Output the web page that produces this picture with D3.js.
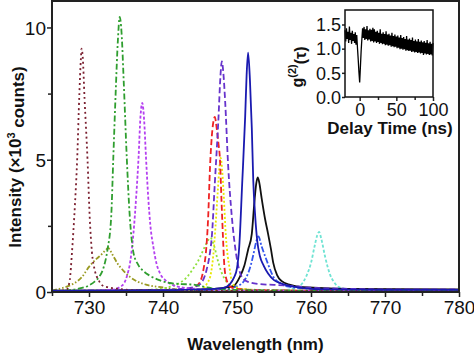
<!DOCTYPE html>
<html><head><meta charset="utf-8">
<script src="https://cdn.jsdelivr.net/npm/d3@7"></script>
<style>body{margin:0;background:#fff}svg{display:block}text{font-family:"Liberation Sans",Arial,sans-serif;fill:#111}</style>
</head><body><svg id="c" width="474" height="356"></svg>
<script>
// ---- data (wavelength nm, intensity x10^3 counts) ----
const specMaroon = [[725,0.03],[726,0.05],[727,0.1],[727.4,0.45],[727.7,1.5],[728.1,3.3],[728.4,5.0],[728.7,7.5],[728.9,8.8],[729.0,9.2],[729.15,8.9],[729.4,7.3],[729.8,5.0],[730.1,2.8],[730.4,1.5],[730.8,0.8],[731.3,0.45],[731.8,0.25],[732.5,0.18],[734,0.12],[736,0.07],[740,0.05],[750,0.04],[760,0.03],[780,0.03]];
const specGreen = [[725,0.03],[727,0.06],[728.5,0.12],[730,0.25],[730.8,0.4],[731.4,0.58],[732.0,0.95],[732.5,1.6],[733.0,2.85],[733.3,5.2],[733.6,7.5],[733.9,9.5],[734.15,10.4],[734.4,9.8],[734.7,7.9],[735.1,5.1],[735.5,2.9],[736.0,1.5],[736.6,1.05],[737.4,0.78],[738.2,0.62],[739.5,0.45],[740.9,0.34],[742.5,0.3],[744,0.28],[745.5,0.2],[747,0.12],[750,0.08],[760,0.05],[780,0.04]];
const specOlive = [[725,0.05],[726,0.12],[727,0.2],[728,0.33],[729,0.55],[730,0.95],[731,1.25],[731.8,1.45],[732.3,1.6],[732.6,1.67],[732.9,1.55],[733.3,1.35],[733.8,1.1],[734.5,0.85],[735.5,0.58],[736.5,0.4],[737.8,0.27],[740,0.17],[742,0.1],[745,0.07],[750,0.05],[760,0.04],[780,0.03]];
const specViolet = [[725,0.04],[730,0.05],[733,0.08],[734.5,0.25],[735.1,0.58],[735.6,1.2],[736.0,2.2],[736.4,3.7],[736.7,5.1],[736.95,6.6],[737.2,7.15],[737.45,6.5],[737.7,5.1],[738.0,3.6],[738.3,2.5],[738.7,1.7],[739.1,1.1],[739.6,0.7],[740.3,0.45],[741.2,0.28],[742,0.2],[744,0.13],[747,0.08],[750,0.06],[760,0.05],[780,0.04]];
const specLime = [[725,0.03],[735,0.05],[739,0.1],[741,0.2],[742.3,0.35],[743.2,0.55],[744.0,0.85],[744.7,1.15],[745.3,1.5],[745.9,1.85],[746.4,2.05],[746.9,1.75],[747.4,1.2],[747.9,0.75],[748.5,0.42],[749.3,0.22],[750.5,0.12],[753,0.08],[760,0.05],[780,0.04]];
const specRed = [[725,0.03],[740,0.05],[743,0.1],[744.3,0.2],[745.0,0.38],[745.5,0.9],[745.8,1.5],[746.1,2.8],[746.35,4.7],[746.6,5.9],[746.85,6.5],[747.0,6.62],[747.25,6.2],[747.5,5.6],[747.7,5.0],[747.9,3.5],[748.1,2.1],[748.3,0.95],[748.6,0.45],[749.1,0.2],[750,0.12],[752,0.08],[760,0.05],[780,0.04]];
const specYellow = [[725,0.03],[740,0.05],[744,0.08],[745.4,0.12],[746.0,0.35],[746.4,0.6],[746.8,1.4],[747.1,2.5],[747.4,3.8],[747.65,4.8],[747.8,5.07],[748.0,4.6],[748.2,3.7],[748.5,2.1],[748.75,1.35],[749.0,0.9],[749.3,0.4],[749.8,0.2],[750.5,0.12],[755,0.06],[780,0.04]];
const specIndigo = [[725,0.04],[735,0.06],[740,0.08],[743,0.13],[744.5,0.22],[745.2,0.35],[745.9,0.85],[746.3,1.4],[746.6,2.1],[747.0,4.1],[747.5,6.6],[747.75,8.1],[747.95,8.72],[748.15,8.3],[748.4,7.2],[748.8,4.8],[749.3,2.85],[749.9,1.4],[750.6,0.6],[751.5,0.38],[753,0.3],[755,0.27],[757,0.24],[760,0.16],[765,0.12],[770,0.1],[780,0.1]];
const specBlue = [[725,0.04],[740,0.06],[745,0.1],[747,0.12],[748.1,0.15],[749.05,0.3],[749.6,0.55],[750.0,0.9],[750.3,1.7],[750.7,4.1],[751.1,6.6],[751.3,8.2],[751.5,9.05],[751.75,8.0],[752.0,6.2],[752.2,4.2],[752.45,2.9],[752.75,1.9],[753.1,1.35],[753.6,1.0],[754.2,0.7],[755.0,0.45],[756.0,0.32],[757.2,0.22],[759,0.15],[762,0.1],[770,0.08],[780,0.08]];
const specBlack = [[725,0.05],[740,0.07],[746,0.1],[748,0.15],[749.5,0.22],[750.4,0.58],[751.0,1.0],[751.5,1.6],[752.0,2.2],[752.35,3.4],[752.6,4.1],[752.8,4.33],[753.0,4.15],[753.3,3.6],[753.8,2.75],[754.2,2.2],[754.6,1.6],[754.9,1.1],[755.4,0.65],[756.0,0.42],[757.2,0.27],[759,0.18],[765,0.12],[780,0.1]];
const specBlueDD = [[725,0.05],[740,0.06],[746,0.08],[749,0.15],[750.4,0.27],[751.3,0.58],[751.8,0.95],[752.2,1.4],[752.6,1.9],[752.9,2.1],[753.3,1.75],[753.8,1.35],[754.2,1.05],[754.9,0.58],[755.8,0.33],[757,0.2],[760,0.12],[770,0.08],[780,0.07]];
const specAqua = [[725,0.03],[750,0.04],[756,0.06],[757.5,0.12],[758.5,0.23],[759.4,0.62],[760.0,1.1],[760.5,1.75],[760.85,2.15],[761.1,2.27],[761.4,2.0],[761.9,1.34],[762.3,0.9],[762.6,0.64],[763.1,0.38],[763.7,0.2],[765,0.1],[770,0.06],[780,0.05]];

const xMajorTicks = [730,740,750,760,770,780];
const xMinorTicks = [725,735,745,755,765,775];
const yMajorTicks = [0,5,10];
const yMinorTicks = [2.5,7.5];

// inset: g2(tau), delay time from -20 ns in 1 ns steps
const g2Start = -20;
const g2Values = [1.38,1.15,1.42,1.20,1.35,1.12,1.46,1.18,1.33,1.10,1.37,1.16,1.30,1.12,1.34,1.08,1.28,1.02,0.78,0.52,0.30,0.62,0.95,1.20,1.42,1.22,1.45,1.18,1.40,1.20,1.47,1.17,1.38,1.19,1.41,1.15,1.39,1.16,1.43,1.13,1.40,1.15,1.35,1.12,1.37,1.14,1.33,1.10,1.40,1.12,1.31,1.09,1.34,1.10,1.30,1.07,1.36,1.08,1.29,1.06,1.31,1.07,1.27,1.04,1.33,1.05,1.26,1.03,1.29,1.04,1.25,1.01,1.27,1.02,1.23,0.99,1.28,1.00,1.22,0.98,1.24,0.99,1.20,0.96,1.26,0.97,1.19,0.95,1.21,0.96,1.18,0.93,1.23,0.94,1.16,0.92,1.19,0.93,1.15,0.91,1.20,0.92,1.14,0.90,1.17,0.91,1.13,0.87,1.16,0.90,1.12,0.88,1.18,0.89,1.11,0.87,1.14,0.88,1.10,0.86,1.12];
const g2YTicks = [0,0.5,1.0,1.5];
const g2XTicks = [0,50,100];
const g2XMinor = [25,75];

// ---- drawing ----
const svg = d3.select("#c");
svg.append("rect").attr("width",474).attr("height",356).attr("fill","#fff");
const L=52,R=459,T=1,B=292;
const x = d3.scaleLinear().domain([725,780]).range([L,R]);
const y = d3.scaleLinear().domain([0,11]).range([B,T]);

svg.append("defs").append("clipPath").attr("id","clp").append("rect")
  .attr("x",L).attr("y",T).attr("width",R-L).attr("height",B-T);

const series = [
  {d:specOlive, c:"#9a9a22", dash:"5,2,1.5,2,1.5,2"},
  {d:specLime, c:"#8ee03c", dash:"2,2.5"},
  {d:specAqua, c:"#6fe3d3", dash:"3,2"},
  {d:specBlueDD, c:"#3355ee", dash:"6,2,2,2"},
  {d:specBlack, c:"#111111", dash:null},
  {d:specYellow, c:"#e8e800", dash:"2,2"},
  {d:specRed, c:"#ee2222", dash:"6,3"},
  {d:specIndigo, c:"#6633cc", dash:"6,3"},
  {d:specViolet, c:"#b440f0", dash:"3,2"},
  {d:specGreen, c:"#2f9e2f", dash:"6,2.5,2,2.5"},
  {d:specMaroon, c:"#7b2030", dash:"2,3"},
  {d:specBlue, c:"#1a1ab0", dash:null}
];
const line = d3.line().x(d=>x(d[0])).y(d=>y(d[1])).curve(d3.curveMonotoneX);
const g = svg.append("g").attr("clip-path","url(#clp)");
series.forEach(s=>{
  g.append("path").attr("d",line(s.d)).attr("fill","none").attr("stroke",s.c)
   .attr("stroke-width",1.8).attr("stroke-dasharray",s.dash).attr("stroke-linejoin","round");
});

// axes
const xa = svg.append("g").attr("transform",`translate(0,${B})`)
  .call(d3.axisBottom(x).tickValues(xMajorTicks).tickSize(5).tickPadding(4).tickFormat(d3.format("d")));
svg.append("g").attr("transform",`translate(0,${B})`)
  .call(d3.axisBottom(x).tickValues(xMinorTicks).tickSize(4).tickFormat(""));
const ya = svg.append("g").attr("transform",`translate(${L},0)`)
  .call(d3.axisLeft(y).tickValues(yMajorTicks).tickSize(5).tickPadding(1).tickFormat(d3.format("d")));
svg.append("g").attr("transform",`translate(${L},0)`)
  .call(d3.axisLeft(y).tickValues(yMinorTicks).tickSize(4).tickFormat(""));
svg.selectAll(".domain").remove();
svg.selectAll(".tick line").attr("stroke","#222").attr("stroke-width",1.5);
xa.selectAll("text").attr("font-size",19).attr("font-family","Liberation Sans, Arial, sans-serif").attr("fill","#111");
ya.selectAll("text").attr("font-size",19).attr("font-family","Liberation Sans, Arial, sans-serif").attr("fill","#111").attr("dy","0.35em");

svg.append("rect").attr("x",L).attr("y",T).attr("width",R-L).attr("height",B-T)
  .attr("fill","none").attr("stroke","#222").attr("stroke-width",2);

// axis titles
svg.append("text").attr("x",(L+R)/2).attr("y",350).attr("text-anchor","middle")
  .attr("font-size",17).attr("font-weight","bold").text("Wavelength (nm)");
const yt = svg.append("text").attr("transform","translate(21,157) rotate(-90)")
  .attr("text-anchor","middle").attr("font-size",17).attr("font-weight","bold");
yt.append("tspan").text("Intensity (×10");
yt.append("tspan").attr("dy","-0.55em").attr("font-size",11).text("3");
yt.append("tspan").attr("dy","0.55em").text(" counts)");

// ---- inset ----
const iL=345,iR=433,iT=10,iB=97;
const ix = d3.scaleLinear().domain([-20,100]).range([iL,iR]);
const iy = d3.scaleLinear().domain([0,1.8]).range([iB,iT]);
const g2Data = g2Values.map((v,i)=>[g2Start+i, v]);
svg.append("path").attr("d", d3.line().x(d=>ix(d[0])).y(d=>iy(d[1]))(g2Data))
  .attr("fill","none").attr("stroke","#000").attr("stroke-width",1.3);
const ixa = svg.append("g").attr("transform",`translate(0,${iB})`)
  .call(d3.axisBottom(ix).tickValues(g2XTicks).tickSize(4).tickPadding(2).tickFormat(d3.format("d")));
svg.append("g").attr("transform",`translate(0,${iB})`)
  .call(d3.axisBottom(ix).tickValues(g2XMinor).tickSize(3).tickFormat(""));
const iya = svg.append("g").attr("transform",`translate(${iL},0)`)
  .call(d3.axisLeft(iy).tickValues(g2YTicks).tickSize(3).tickPadding(1).tickFormat(d3.format(".1f")));
svg.selectAll(".domain").remove();
svg.selectAll(".tick line").attr("stroke","#222").attr("stroke-width",1.5);
ixa.selectAll("text").attr("font-size",18).attr("font-family","Liberation Sans, Arial, sans-serif").attr("fill","#111");
iya.selectAll("text").attr("font-size",18).attr("font-family","Liberation Sans, Arial, sans-serif").attr("fill","#111").attr("dy","0.35em");
svg.append("rect").attr("x",iL).attr("y",iT).attr("width",iR-iL).attr("height",iB-iT)
  .attr("fill","none").attr("stroke","#111").attr("stroke-width",1.5);
svg.append("text").attr("x",(iL+iR)/2+1).attr("y",134).attr("text-anchor","middle")
  .attr("font-size",17).attr("font-weight","bold").text("Delay Time (ns)");
const it = svg.append("text").attr("transform","translate(303,67) rotate(-90)")
  .attr("text-anchor","middle").attr("font-size",16).attr("font-weight","bold");
it.append("tspan").text("g");
it.append("tspan").attr("dy","-0.6em").attr("font-size",11).text("(2)");
it.append("tspan").attr("dy","0.6em").text("(τ)");
</script></body></html>
